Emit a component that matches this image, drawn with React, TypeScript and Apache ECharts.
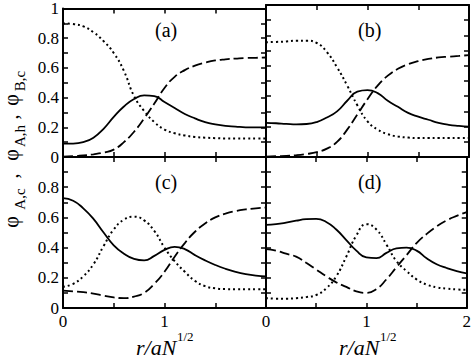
import React, { useEffect, useRef } from "react";
import * as echarts from "echarts";

const X = [0, 0.1, 0.2, 0.3, 0.4, 0.5, 0.6, 0.7, 0.8, 0.9, 1.0, 1.1, 1.2, 1.3, 1.4, 1.5, 1.6, 1.7, 1.8, 1.9, 2.0];

// panel (a)
const A_SOLID = [0.09, 0.09, 0.1, 0.13, 0.19, 0.27, 0.34, 0.39, 0.415, 0.41, 0.37, 0.33, 0.29, 0.26, 0.235, 0.22, 0.21, 0.205, 0.2, 0.2, 0.2];
const A_DOT = [0.9, 0.895, 0.88, 0.84, 0.78, 0.7, 0.58, 0.41, 0.31, 0.235, 0.185, 0.16, 0.145, 0.135, 0.13, 0.127, 0.125, 0.125, 0.125, 0.125, 0.125];
const A_DASH = [0.003, 0.005, 0.01, 0.018, 0.03, 0.05, 0.1, 0.17, 0.26, 0.36, 0.465, 0.54, 0.585, 0.615, 0.635, 0.65, 0.658, 0.663, 0.667, 0.668, 0.67];
// panel (b)
const B_SOLID = [0.225, 0.222, 0.218, 0.215, 0.217, 0.23, 0.26, 0.3, 0.37, 0.43, 0.44, 0.42, 0.37, 0.33, 0.29, 0.265, 0.245, 0.225, 0.212, 0.205, 0.2];
const B_DOT = [0.755, 0.757, 0.76, 0.765, 0.765, 0.75, 0.69, 0.59, 0.47, 0.34, 0.235, 0.18, 0.15, 0.135, 0.128, 0.125, 0.125, 0.125, 0.125, 0.125, 0.125];
const B_DASH = [0.003, 0.005, 0.008, 0.012, 0.02, 0.032, 0.055, 0.1, 0.18, 0.28, 0.38, 0.47, 0.535, 0.58, 0.61, 0.63, 0.645, 0.655, 0.66, 0.665, 0.67];
// panel (c)
const C_SOLID = [0.727, 0.71, 0.66, 0.59, 0.5, 0.415, 0.36, 0.325, 0.315, 0.345, 0.385, 0.405, 0.39, 0.35, 0.315, 0.285, 0.26, 0.24, 0.225, 0.215, 0.21];
const C_DOT = [0.14, 0.16, 0.21, 0.29, 0.41, 0.52, 0.585, 0.605, 0.58, 0.51, 0.4, 0.31, 0.24, 0.18, 0.145, 0.13, 0.125, 0.125, 0.125, 0.125, 0.125];
const C_DASH = [0.115, 0.11, 0.105, 0.095, 0.082, 0.07, 0.065, 0.075, 0.1, 0.16, 0.24, 0.34, 0.43, 0.505, 0.56, 0.6, 0.625, 0.642, 0.653, 0.66, 0.665];
// panel (d)
const D_SOLID = [0.55, 0.555, 0.565, 0.578, 0.588, 0.59, 0.57, 0.52, 0.45, 0.38, 0.335, 0.33, 0.365, 0.395, 0.4, 0.38, 0.33, 0.29, 0.265, 0.245, 0.23];
const D_DOT = [0.065, 0.062, 0.062, 0.065, 0.072, 0.086, 0.13, 0.21, 0.34, 0.48, 0.555, 0.52, 0.42, 0.31, 0.245, 0.19, 0.155, 0.137, 0.128, 0.123, 0.12];
const D_DASH = [0.39, 0.38, 0.36, 0.34, 0.3, 0.255, 0.21, 0.17, 0.14, 0.11, 0.1, 0.125, 0.19, 0.27, 0.35, 0.43, 0.49, 0.54, 0.58, 0.61, 0.635];

const PANEL_LABELS = ["(a)", "(b)", "(c)", "(d)"];
const PANELS = [
  [A_SOLID, A_DOT, A_DASH],
  [B_SOLID, B_DOT, B_DASH],
  [C_SOLID, C_DOT, C_DASH],
  [D_SOLID, D_DOT, D_DASH],
];
const X_TITLE_MAIN = "r/aN";
const X_TITLE_SUP = "1/2";
// y-axis title pieces: text, font size, vertical centre, gap from the axis
const Y_TITLE = [
  { t: "φ", fs: 20, yc: 222, gap: 49 },
  { t: "A,c", fs: 15, yc: 199, gap: 36 },
  { t: ",", fs: 20, yc: 176, gap: 49 },
  { t: "φ", fs: 20, yc: 155, gap: 49 },
  { t: "A,h", fs: 15, yc: 136, gap: 36 },
  { t: ",", fs: 20, yc: 117, gap: 49 },
  { t: "φ", fs: 20, yc: 100, gap: 49 },
  { t: "B,c", fs: 15, yc: 81, gap: 36 },
];

const FONT = "Liberation Serif";

function mkLine() {
  return { show: true, onZero: false, lineStyle: { color: "#000", width: 2 } };
}
function mkTick() {
  return { show: true, inside: true, length: 5, lineStyle: { color: "#000", width: 1.5 } };
}
function mkMinor() {
  return { show: true, splitNumber: 2, length: 5, lineStyle: { color: "#000", width: 1.5 } };
}

export default function App() {
  const ref = useRef<HTMLDivElement>(null);
  useEffect(() => {
    document.body.style.margin = "0";
    const chart = echarts.init(ref.current!, null, { renderer: "svg" });
    const grids: any[] = [
      { left: 63, top: 5, width: 203, height: 152 },
      { left: 266, top: 5, width: 203, height: 152 },
      { left: 63, top: 157, width: 203, height: 151 },
      { left: 266, top: 157, width: 203, height: 151 },
    ];
    const xAxes: any[] = [];
    const yAxes: any[] = [];
    for (let p = 0; p < 4; p++) {
      const bottomRow = p >= 2;
      const leftCol = p % 2 === 0;
      xAxes.push({
        gridIndex: p, type: "value", min: 0, max: 2, interval: 1, position: "bottom",
        axisLine: mkLine(), axisTick: mkTick(), minorTick: mkMinor(), splitLine: { show: false },
        axisLabel: {
          show: bottomRow, color: "#000", fontSize: 17, fontFamily: FONT, margin: 5,
          showMinLabel: true, showMaxLabel: p !== 2,
        },
      });
      xAxes.push({
        gridIndex: p, type: "value", min: 0, max: 2, interval: 1, position: "top",
        axisLine: mkLine(), axisTick: mkTick(), minorTick: mkMinor(), splitLine: { show: false },
        axisLabel: { show: false },
      });
      yAxes.push({
        gridIndex: p, type: "value", min: 0, max: 1, interval: 0.2, position: "left",
        axisLine: mkLine(), axisTick: mkTick(), minorTick: mkMinor(), splitLine: { show: false },
        axisLabel: {
          show: leftCol, color: "#000", fontSize: 17, fontFamily: FONT, margin: 4,
          showMinLabel: true, showMaxLabel: p !== 2,
        },
      });
      yAxes.push({
        gridIndex: p, type: "value", min: 0, max: 1, interval: 0.2, position: "right",
        axisLine: mkLine(), axisTick: mkTick(), minorTick: mkMinor(), splitLine: { show: false },
        axisLabel: { show: false },
      });
    }
    // helper grids carrying the pieces of the rotated y-axis title
    Y_TITLE.forEach((piece) => {
      const g = grids.length;
      grids.push({ left: 63, top: piece.yc - 5, width: 10, height: 10 });
      xAxes.push({ gridIndex: g, type: "value", min: 0, max: 1, show: false });
      yAxes.push({
        gridIndex: g, type: "value", min: 0, max: 1, show: true,
        axisLine: { show: false }, axisTick: { show: false }, axisLabel: { show: false }, splitLine: { show: false },
        name: piece.t, nameLocation: "middle", nameRotate: 90, nameGap: piece.gap,
        nameTextStyle: { color: "#000", fontFamily: FONT, fontSize: piece.fs },
      });
    });
    const styles = [
      { type: "solid", width: 1.8 },
      { type: [2, 3], width: 2 },
      { type: [10, 4], width: 1.8 },
    ];
    const series: any[] = [];
    PANELS.forEach((arrs, p) => {
      arrs.forEach((arr, s) => {
        series.push({
          type: "line", xAxisIndex: 2 * p, yAxisIndex: 2 * p,
          data: X.map((x, i) => [x, arr[i]]),
          showSymbol: false, smooth: true,
          lineStyle: { color: "#000", ...styles[s] },
        });
      });
    });
    const labelPos = [[155, 20], [358, 20], [155, 172], [358, 172]];
    const titles: any[] = PANEL_LABELS.map((t, i) => ({
      text: t, left: labelPos[i][0], top: labelPos[i][1], padding: 0,
      textStyle: { color: "#000", fontFamily: FONT, fontSize: 20, fontWeight: "normal" },
    }));
    [136, 339].forEach((lx) => {
      titles.push({
        text: X_TITLE_MAIN, left: lx, top: 336, padding: 0,
        textStyle: { color: "#000", fontFamily: FONT, fontSize: 22, fontStyle: "italic", fontWeight: "normal" },
      });
      titles.push({
        text: X_TITLE_SUP, left: lx + 41, top: 330, padding: 0,
        textStyle: { color: "#000", fontFamily: FONT, fontSize: 13, fontWeight: "normal" },
      });
    });
    chart.setOption({
      animation: false,
      title: titles,
      grid: grids,
      xAxis: xAxes,
      yAxis: yAxes,
      series,
    });
    return () => chart.dispose();
  }, []);
  return <div ref={ref} style={{ width: 474, height: 356 }} />;
}
